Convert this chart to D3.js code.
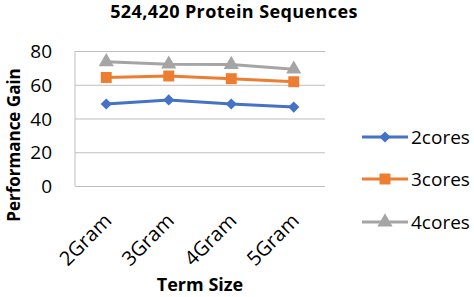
<!DOCTYPE html>
<html>
<head>
<meta charset="utf-8">
<script src="https://cdn.jsdelivr.net/npm/d3@7"></script>
<style>
  body { margin: 0; background: #fff; }
  text { font-family: "Open Sans", "Liberation Sans", sans-serif; fill: #000; }
</style>
</head>
<body>
<svg id="chart" width="474" height="297"></svg>
<script>
const categories = ['2Gram', '3Gram', '4Gram', '5Gram'];
const seriesNames = ['2cores', '3cores', '4cores'];
const cores2 = [48.6, 51.0, 48.6, 46.8];
const cores3 = [64.3, 65.2, 63.6, 61.8];
const cores4 = [73.6, 72.2, 72.0, 69.2];
const yTicks = [0, 20, 40, 60, 80];

const colors = ['#4472C4', '#ED7D31', '#A5A5A5'];
const symbols = [d3.symbolDiamond2, d3.symbolSquare, d3.symbolTriangle];
const symSize = [80, 120, 100];

const series = [cores2, cores3, cores4].map((values, i) => ({ name: seriesNames[i], values }));

const margin = { top: 51, right: 149, bottom: 111, left: 75 };
const width = 474 - margin.left - margin.right;
const height = 297 - margin.top - margin.bottom;

const svg = d3.select('#chart');
const g = svg.append('g').attr('transform', `translate(${margin.left},${margin.top})`);

const x = d3.scalePoint().domain(categories).range([0, width]).padding(0.5);
const y = d3.scaleLinear().domain([0, 80]).range([height, 0]);

// gridlines
g.append('g')
  .call(d3.axisLeft(y).tickValues(yTicks).tickSize(-width).tickFormat(''))
  .call(a => a.select('.domain').remove())
  .selectAll('line').attr('stroke', '#bfbfbf').attr('stroke-width', 1);

g.append('line')
  .attr('x1', 0).attr('x2', 0).attr('y1', 0).attr('y2', height)
  .attr('stroke', '#bfbfbf');

// y tick labels
g.append('g')
  .call(d3.axisLeft(y).tickValues(yTicks).tickSize(0).tickPadding(23))
  .call(a => a.select('.domain').remove())
  .selectAll('text').style('font-size', '19px').attr('dy', '0.35em');

// x tick labels
g.append('g')
  .attr('transform', `translate(0,${height})`)
  .call(d3.axisBottom(x).tickSize(0).tickPadding(0))
  .call(a => a.select('.domain').remove())
  .selectAll('text')
  .style('font-size', '20px')
  .attr('text-anchor', 'end')
  .attr('transform', 'translate(6,36) rotate(-45)')
  .attr('dy', 0)
  .attr('y', 0);

const line = d3.line().x((d, i) => x(categories[i])).y(d => y(d));

series.forEach((s, i) => {
  g.append('path')
    .datum(s.values)
    .attr('fill', 'none')
    .attr('stroke', colors[i])
    .attr('stroke-width', 3)
    .attr('d', line);
  g.selectAll(null)
    .data(s.values)
    .enter().append('path')
    .attr('transform', (d, j) => `translate(${x(categories[j])},${y(d)})`)
    .attr('d', d3.symbol().type(symbols[i]).size(symSize[i]))
    .attr('fill', colors[i]);
});

// legend
const legendY = [137, 179, 222];
const legend = svg.append('g');
series.forEach((s, i) => {
  const lg = legend.append('g').attr('transform', `translate(362,${legendY[i]})`);
  lg.append('line').attr('x1', 0).attr('x2', 46).attr('stroke', colors[i]).attr('stroke-width', 3);
  lg.append('path')
    .attr('transform', 'translate(23,0)')
    .attr('d', d3.symbol().type(symbols[i]).size(symSize[i]))
    .attr('fill', colors[i]);
  lg.append('text').attr('x', 49).attr('dy', '0.35em').style('font-size', '19px').text(s.name);
});

// titles
svg.append('text')
  .attr('x', 234).attr('y', 18)
  .attr('text-anchor', 'middle')
  .style('font-size', '18px').style('font-weight', 'bold')
  .style('letter-spacing', '0.4px')
  .text('524,420 Protein Sequences');

svg.append('text')
  .attr('transform', 'translate(20,145) rotate(-90)')
  .attr('text-anchor', 'middle')
  .style('font-size', '17px').style('font-weight', 'bold')
  .text('Performance Gain');

svg.append('text')
  .attr('x', 200).attr('y', 291)
  .attr('text-anchor', 'middle')
  .style('font-size', '18px').style('font-weight', 'bold')
  .text('Term Size');
</script>
</body>
</html>
